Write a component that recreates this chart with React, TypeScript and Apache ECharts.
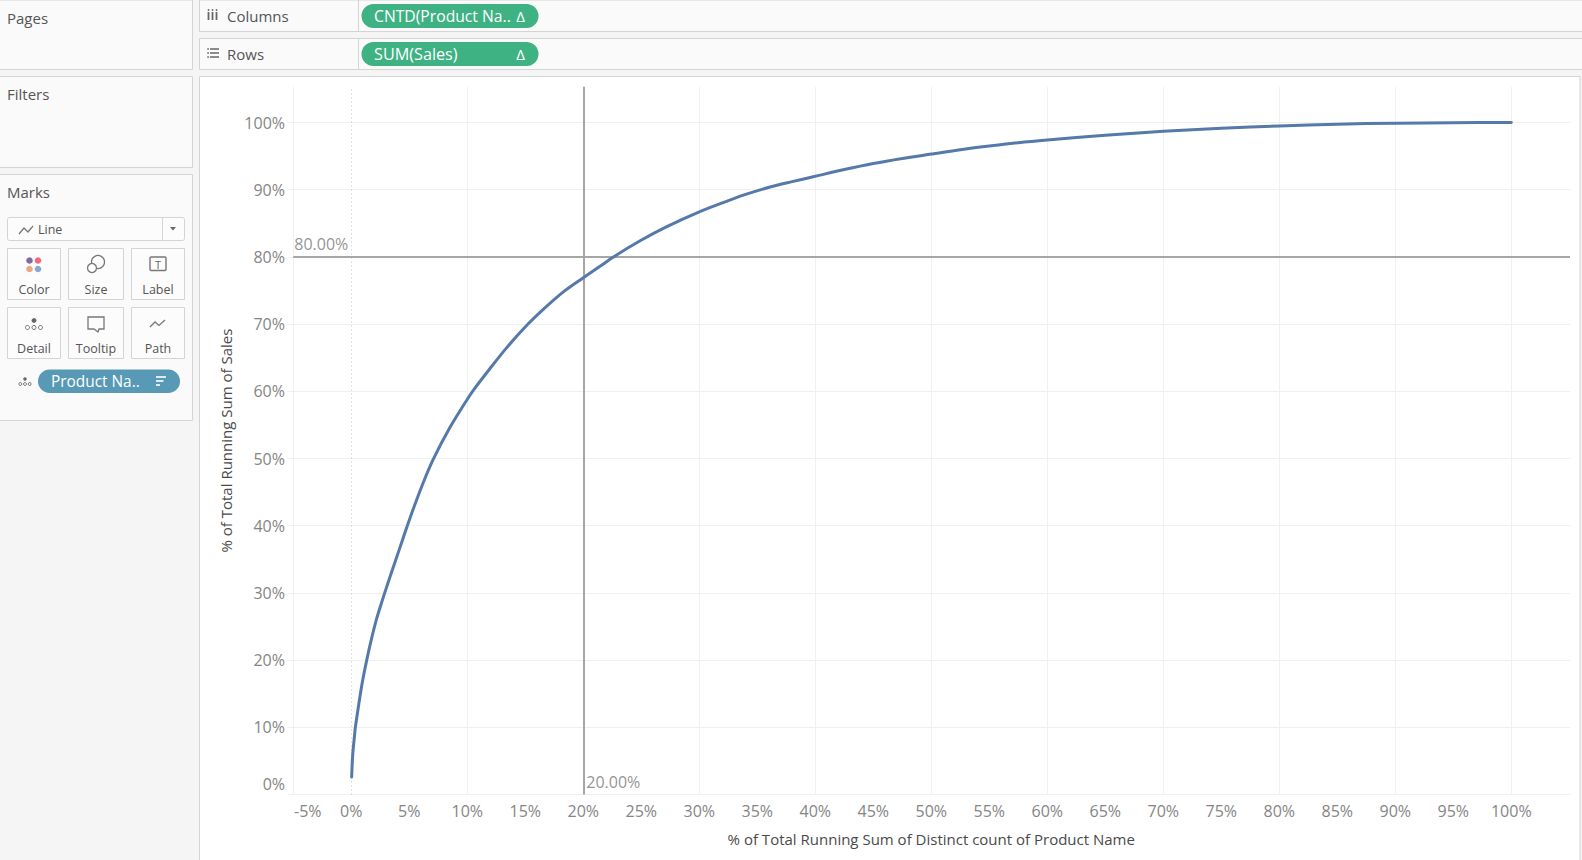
import React, { useEffect, useRef } from "react";
import * as echarts from "echarts";

const FONT = "'Open Sans', sans-serif";

const xPct = [0.03, 0.12, 0.29, 0.35, 0.66, 0.95, 1.33, 1.72, 2.19, 2.62, 2.88, 3.34, 3.91, 4.4, 4.83, 5.34, 6.2, 7.07, 8.5, 10.03, 10.58, 11.96, 13.4, 15.17, 16.55, 18.28, 20, 21.44, 22.6, 24.9, 27.2, 30, 32.4, 34, 36.1, 38, 40, 42.5, 45, 47.5, 50, 52.5, 55, 57.5, 60, 65, 70, 75, 80, 85, 90, 95, 100];
const yPct = [2.6, 5.9, 9, 10, 13.6, 16.7, 20, 23, 26.2, 28.6, 30, 32.4, 35.3, 37.8, 40, 42.5, 46.4, 49.9, 54.6, 58.9, 60.3, 63.4, 66.5, 69.9, 72.2, 74.8, 76.9, 78.6, 80, 82.4, 84.5, 86.7, 88.3, 89.3, 90.4, 91.2, 92, 93, 93.9, 94.65, 95.3, 95.95, 96.5, 97, 97.4, 98.1, 98.7, 99.15, 99.5, 99.75, 99.9, 99.97, 100];

const xLabelTicks = [-5, 0, 5, 10, 15, 20, 25, 30, 35, 40, 45, 50, 55, 60, 65, 70, 75, 80, 85, 90, 95, 100];
const xGridTicks = [-5, 10, 20, 30, 40, 50, 60, 70, 80, 90, 100];
const yTicks = [0, 10, 20, 30, 40, 50, 60, 70, 80, 90, 100];
const refX = 20;
const refY = 80;
const refXLabel = "20.00%";
const refYLabel = "80.00%";
const xTitle = "% of Total Running Sum of Distinct count of Product Name";
const yTitle = "% of Total Running Sum of Sales";

const BORDER = "#d4d4d4";
const CARD = "#fafafa";
const TXT = "#555555";
const ICON = "#777777";
const GREEN = "#3fb283";
const BLUE = "#5899b6";

const rect = (x: number, y: number, w: number, h: number, fill: string, stroke: string | null, r = 0, lw = 1) => ({
  type: "rect", z: -1, silent: true,
  shape: { x, y, width: w, height: h, r },
  style: { fill, stroke: stroke ?? undefined, lineWidth: lw },
});
const text = (x: number, y: number, t: string, size = 14, fill = TXT, align = "left") => ({
  type: "text", z: 1, silent: true, x, y,
  style: { text: t, fill, fontSize: size, fontFamily: FONT, align, verticalAlign: "middle" },
});
const line = (x1: number, y1: number, x2: number, y2: number, stroke = ICON, lw = 1.5) => ({
  type: "line", z: 1, silent: true,
  shape: { x1, y1, x2, y2 }, style: { stroke, lineWidth: lw },
});
const poly = (pts: number[][], stroke = ICON, lw = 1.3) => ({
  type: "polyline", z: 1, silent: true, shape: { points: pts }, style: { stroke, lineWidth: lw, fill: "none" },
});
const dot = (cx: number, cy: number, r: number, fill: string, stroke?: string) => ({
  type: "circle", z: 1, silent: true, shape: { cx, cy, r },
  style: { fill, stroke, lineWidth: 1 },
});
const detailIcon = (cx: number, cy: number, s = 1) => [
  dot(cx, cy - 3.5 * s, 2.4 * s, "#666666"),
  dot(cx - 6.5 * s, cy + 3.5 * s, 2 * s, "#ffffff", "#666666"),
  dot(cx, cy + 3.5 * s, 2 * s, "#ffffff", "#666666"),
  dot(cx + 6.5 * s, cy + 3.5 * s, 2 * s, "#ffffff", "#666666"),
];

const chrome = (): any[] => {
  const els: any[] = [];
  els.push(rect(-2, 0, 194.5, 69.5, CARD, BORDER));
  els.push(rect(-2, 76.5, 194.5, 91, CARD, BORDER));
  els.push(rect(-2, 174.5, 194.5, 246, CARD, BORDER));
  els.push(text(7, 18, "Pages", 15), text(7, 94, "Filters", 15), text(7, 192, "Marks", 15));
  els.push(rect(199.5, 0, 1390, 31.5, CARD, BORDER), rect(199.5, 38.5, 1390, 31, CARD, BORDER));
  els.push(line(358.5, 0, 358.5, 31.5, BORDER, 1), line(358.5, 38.5, 358.5, 69.5, BORDER, 1));
  els.push(
    line(208.5, 12, 208.5, 20, "#666666", 1.8), line(212.5, 12, 212.5, 20, "#666666", 1.8), line(216.5, 12, 216.5, 20, "#666666", 1.8),
    dot(208.5, 10, 0.9, "#666666"), dot(212.5, 10, 0.9, "#666666"), dot(216.5, 10, 0.9, "#666666"),
    text(227, 16, "Columns", 15),
    line(210, 49, 219, 49, "#666666", 1.5), line(210, 53, 219, 53, "#666666", 1.5), line(210, 57, 219, 57, "#666666", 1.5),
    dot(208, 49, 0.8, "#666666"), dot(208, 53, 0.8, "#666666"), dot(208, 57, 0.8, "#666666"),
    text(227, 54, "Rows", 15),
  );
  els.push(rect(361.5, 4, 177, 24, GREEN, null, 12), rect(361.5, 42, 177, 24, GREEN, null, 12));
  els.push(text(374, 16, "CNTD(Product Na..", 15.7, "#ffffff"), text(520.5, 16, "Δ", 15, "#ffffff", "center"));
  els.push(text(374, 54, "SUM(Sales)", 16.2, "#ffffff"), text(520.5, 54, "Δ", 15, "#ffffff", "center"));
  els.push(rect(7.5, 217.5, 177, 23, "#fcfcfc", BORDER, 2), line(162.5, 217.5, 162.5, 240.5, BORDER, 1));
  els.push(poly([[19, 234], [24, 228], [28, 232], [33, 226]]), text(38, 229, "Line", 12.5));
  els.push({ type: "polygon", z: 1, silent: true, shape: { points: [[170, 227], [176, 227], [173, 230.5]] }, style: { fill: "#666666" } });
  const cols: [number, number][] = [[7.5, 53], [68.5, 55], [131.5, 53]];
  const rowsY: [number, number][] = [[248.5, 51], [307.5, 51]];
  rowsY.forEach(([y, h]) => cols.forEach(([x, w]) => els.push(rect(x, y, w, h, "#fcfcfc", BORDER))));
  els.push(text(34, 289.5, "Color", 12.5, TXT, "center"), text(96, 289.5, "Size", 12.5, TXT, "center"), text(158, 289.5, "Label", 12.5, TXT, "center"));
  els.push(text(34, 348.5, "Detail", 12.5, TXT, "center"), text(96, 348.5, "Tooltip", 12.5, TXT, "center"), text(158, 348.5, "Path", 12.5, TXT, "center"));
  els.push(dot(29.5, 260.5, 3.3, "#7f6a9c"), dot(38, 260.5, 3.3, "#ef6a7d"), dot(29.5, 269, 3.3, "#eda77e"), dot(38, 269, 3.3, "#85a9d4"));
  els.push(
    { type: "circle", z: 1, silent: true, shape: { cx: 98, cy: 262, r: 6.5 }, style: { fill: "none", stroke: ICON, lineWidth: 1.3 } },
    { type: "circle", z: 1, silent: true, shape: { cx: 92, cy: 268, r: 4.5 }, style: { fill: "#fcfcfc", stroke: ICON, lineWidth: 1.3 } },
  );
  els.push(
    { type: "rect", z: 1, silent: true, shape: { x: 150, y: 257, width: 16, height: 13.5, r: 1 }, style: { fill: "none", stroke: ICON, lineWidth: 1.4 } },
    text(158, 264, "T", 11, "#666666", "center"),
  );
  els.push(...detailIcon(34, 324));
  els.push({ type: "polygon", z: 1, silent: true, shape: { points: [[88, 317], [104, 317], [104, 329], [99, 329], [98, 332], [94, 329], [88, 329]] }, style: { fill: "none", stroke: ICON, lineWidth: 1.3 } });
  els.push(poly([[150, 327], [155, 322], [159, 325.5], [165, 320]]));
  els.push(...detailIcon(25, 381.5, 0.72));
  els.push(rect(38, 369.5, 142, 23.5, BLUE, null, 11.75));
  els.push(text(51, 381.5, "Product Na..", 15.4, "#ffffff"));
  els.push(line(156, 377, 166, 377, "#ffffff", 1.6), line(156, 381, 163.5, 381, "#ffffff", 1.6), line(156, 385, 160, 385, "#ffffff", 1.6));
  els.push(rect(199.5, 76.5, 1380.5, 800, "#ffffff", BORDER));
  return els;
};

const axisLabelColor = "#858585";
const TITLE = "#4a4a4a";
const REF = "#a6a6a6";
const xMax = 105.06;

export default function App() {
  const ref = useRef<HTMLDivElement>(null);
  useEffect(() => {
    document.body.style.margin = "0";
    document.body.style.background = "#f5f5f5";
    const chart = echarts.init(ref.current!, null, { renderer: "svg" });
    chart.setOption({
      animation: false,
      backgroundColor: "#f5f5f5",
      textStyle: { fontFamily: FONT },
      graphic: { elements: chrome() },
      grid: { left: 287.5, right: 12, top: 86.7, bottom: 65.5, containLabel: false },
      xAxis: {
        type: "value",
        min: -5.5,
        max: xMax,
        name: xTitle,
        nameLocation: "middle",
        nameGap: 37,
        nameTextStyle: { color: TITLE, fontSize: 15, fontFamily: FONT, padding: [0, 0, 0, 5] },
        axisLine: { show: false },
        axisTick: { show: false, customValues: xGridTicks },
        splitLine: { show: true, lineStyle: { color: "#f0f0f0", width: 1 } },
        axisLabel: {
          customValues: xLabelTicks,
          color: axisLabelColor,
          fontSize: 16,
          fontFamily: FONT,
          margin: 8,
          formatter: (v: number) => (v === -5 ? `{shift|${v}%}` : `${v}%`),
          rich: { shift: { color: axisLabelColor, fontSize: 16, fontFamily: FONT, padding: [0, 0, 0, 29] } },
        },
      },
      yAxis: {
        type: "value",
        min: 0,
        max: 105.33,
        name: yTitle,
        nameLocation: "middle",
        nameGap: 52,
        nameTextStyle: { color: TITLE, fontSize: 15, fontFamily: FONT },
        axisLine: { show: false },
        axisTick: { show: false, customValues: yTicks },
        splitLine: { show: true, lineStyle: { color: "#f0f0f0", width: 1 } },
        axisLabel: {
          customValues: yTicks,
          color: axisLabelColor,
          fontSize: 16,
          fontFamily: FONT,
          margin: 2.5,
          formatter: (v: number) => (v === 0 ? `{shift|${v}%}` : `${v}%`),
          rich: { shift: { color: axisLabelColor, fontSize: 16, fontFamily: FONT, padding: [0, 0, 21, 0] } },
        },
      },
      series: [
        {
          type: "line",
          data: xPct.map((x, i) => [x, yPct[i]]),
          showSymbol: false,
          smooth: 0.3,
          z: 5,
          lineStyle: { color: "#5579a9", width: 3, cap: "round", join: "round" },
          markLine: {
            silent: true,
            symbol: "none",
            animation: false,
            label: { show: false },
            data: [
              { xAxis: 0, lineStyle: { color: "#c4c4c4", width: 1, type: [1, 3] } },
              { xAxis: refX, lineStyle: { color: REF, width: 2, type: "solid" } },
              [
                { coord: [-5, refY], lineStyle: { color: REF, width: 2, type: "solid" } },
                { coord: [xMax, refY] },
              ],
            ],
          },
        },
        {
          type: "scatter",
          symbolSize: 0,
          silent: true,
          z: 6,
          data: [
            { value: [refX, 0], label: { formatter: refXLabel, position: [3, -21] } },
            { value: [-5, refY], label: { formatter: refYLabel, position: [1, -21] } },
          ],
          label: { show: true, color: "#777777", fontSize: 16, fontFamily: FONT, align: "left" },
        },
      ],
    });
    return () => chart.dispose();
  }, []);
  return <div ref={ref} style={{ width: 1582, height: 860, position: "absolute", left: 0, top: 0, overflow: "hidden" }} />;
}
